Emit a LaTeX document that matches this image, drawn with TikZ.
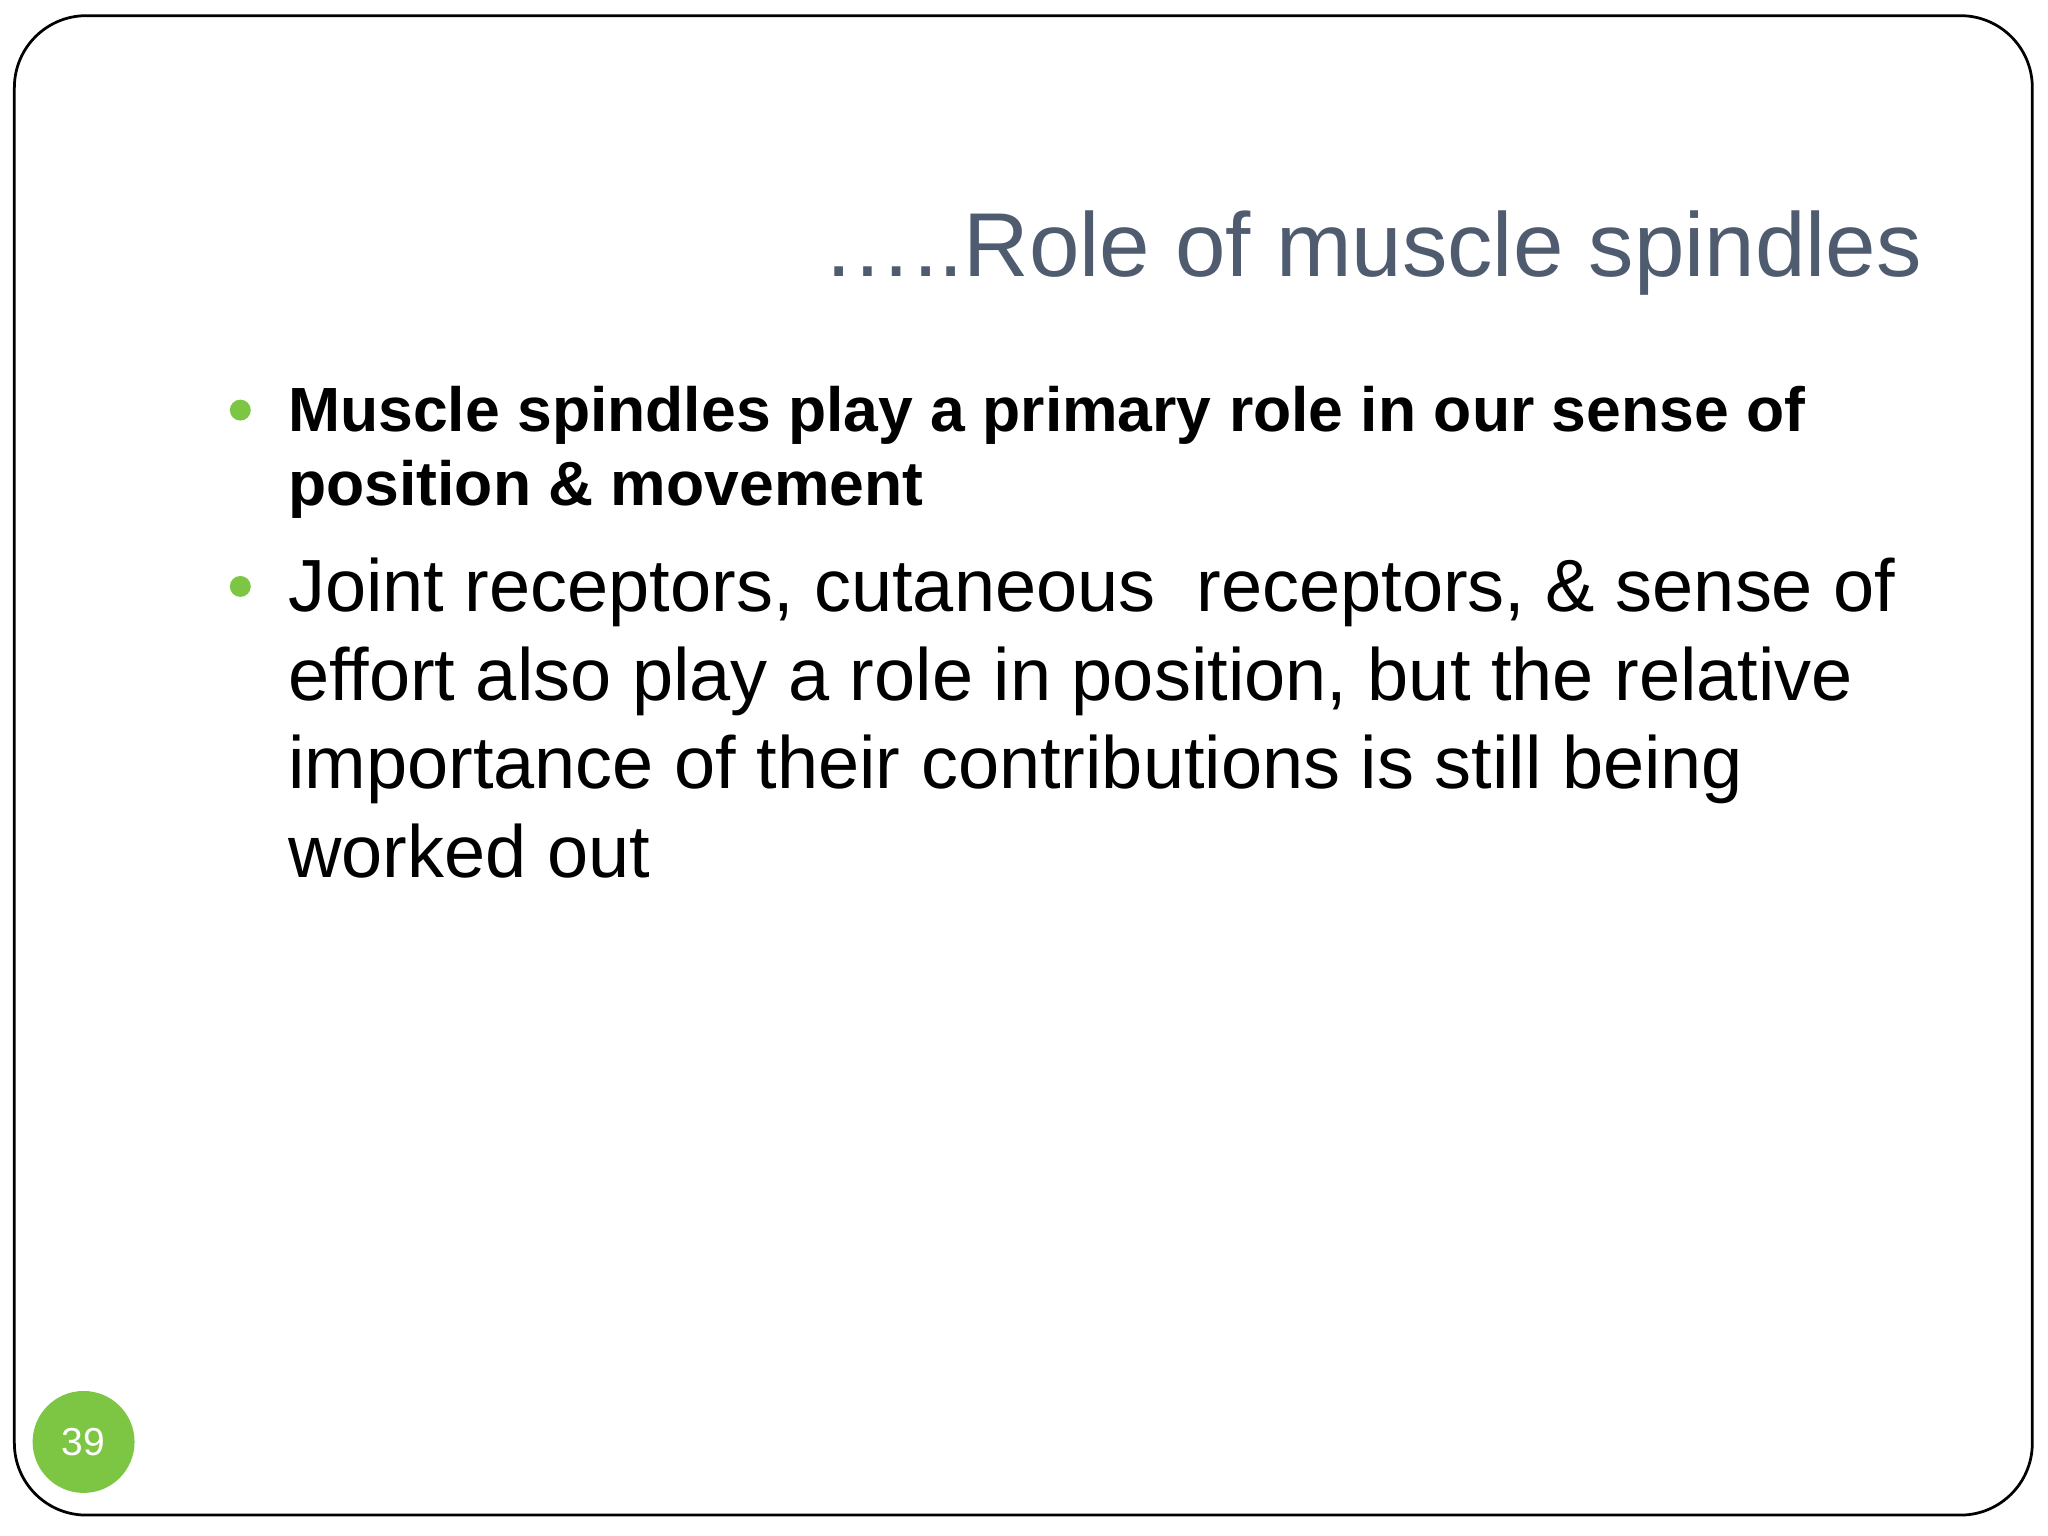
\documentclass[tikz,border=0pt]{standalone}
\usepackage{fontspec}
\setmainfont{Liberation Sans}
\definecolor{titlec}{HTML}{4F5B6E}
\definecolor{greenc}{HTML}{7CC644}
\begin{document}
\begin{tikzpicture}[x=0.01cm,y=-0.01cm,
  ln/.style={anchor=base west,inner sep=0pt},
  b1/.style={ln,font=\fontsize{13.6pt}{16pt}\selectfont\bfseries},
  b2/.style={ln,font=\fontsize{16.1pt}{19pt}\selectfont},
  dot/.style={circle,fill=greenc,inner sep=0pt,minimum size=0.16cm}]
\useasboundingbox (0,0) rectangle (1568,1176);
\fill[white] (0,0) rectangle (1568,1176);
\draw[black,line width=0.6pt,rounded corners=0.55cm] (11,12) rectangle (1556,1160);
\node[anchor=base east,inner sep=0pt,text=titlec,font=\fontsize{19.75pt}{22pt}\selectfont] (title) at (1472,212) {…..Role of muscle spindles};
\node[dot] (d1) at (184,314) {};
\node[b1] (l1) at (220,330) {Muscle spindles play a primary role in our sense of};
\node[b1] (l2) at (220,387) {position \& movement};
\node[dot] (d2) at (184,449) {};
\node[b2] (m1) at (220,468) {Joint receptors, cutaneous\ \ receptors, \& sense of};
\node[b2] (m2) at (220,536) {effort also play a role in position, but the relative};
\node[b2] (m3) at (220,604) {importance of their contributions is still being};
\node[b2] (m4) at (220,672) {worked out};
\node[circle,fill=greenc,minimum size=0.78cm,inner sep=0pt,text=white,font=\fontsize{8.5pt}{10pt}\selectfont] (pg) at (64,1104) {39};
\end{tikzpicture}
\end{document}
